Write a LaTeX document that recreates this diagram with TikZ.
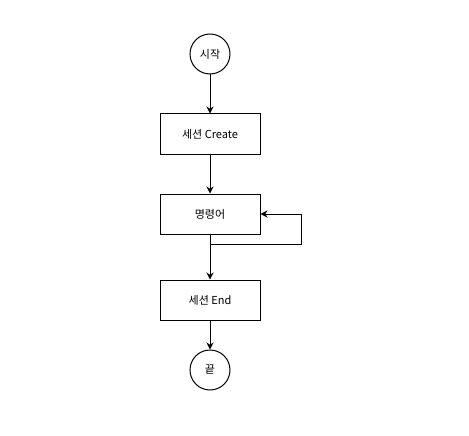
\documentclass[tikz,border=0pt]{standalone}
\usepackage{fontspec}
\setmainfont{Noto Sans CJK KR}
\usetikzlibrary{arrows.meta}

\tikzset{
  flowbox/.style={draw, line width=1pt, minimum width=100pt, minimum height=40pt, inner sep=0pt, font=\fontsize{11}{13}\selectfont},
  term/.style={draw, circle, line width=1pt, minimum size=40pt, inner sep=0pt, font=\fontsize{11}{13}\selectfont},
  arr/.style={line width=1pt, -{Stealth[length=7pt,width=7pt]}}
}

\begin{document}
\begin{tikzpicture}[x=1pt, y=-1pt]

\useasboundingbox (0,0) rectangle (469,436);

\node[term] (start) at (210,54) {시작};
\node[flowbox] (create) at (210,134) {세션 Create};
\node[flowbox] (cmd) at (210,214) {명령어};
\node[flowbox] (sessend) at (210,300) {세션 End};
\node[term] (stop) at (210,370) {끝};

\coordinate (split) at (210,244);

\draw[arr] (start) -- (create);
\draw[arr] (create) -- (cmd);
\draw[arr] (cmd) -- (sessend);
\draw[arr] (sessend) -- (stop);

% loop back into the command box
\draw[arr] (split) -- (301,244) |- (cmd.east);

\end{tikzpicture}
\end{document}
